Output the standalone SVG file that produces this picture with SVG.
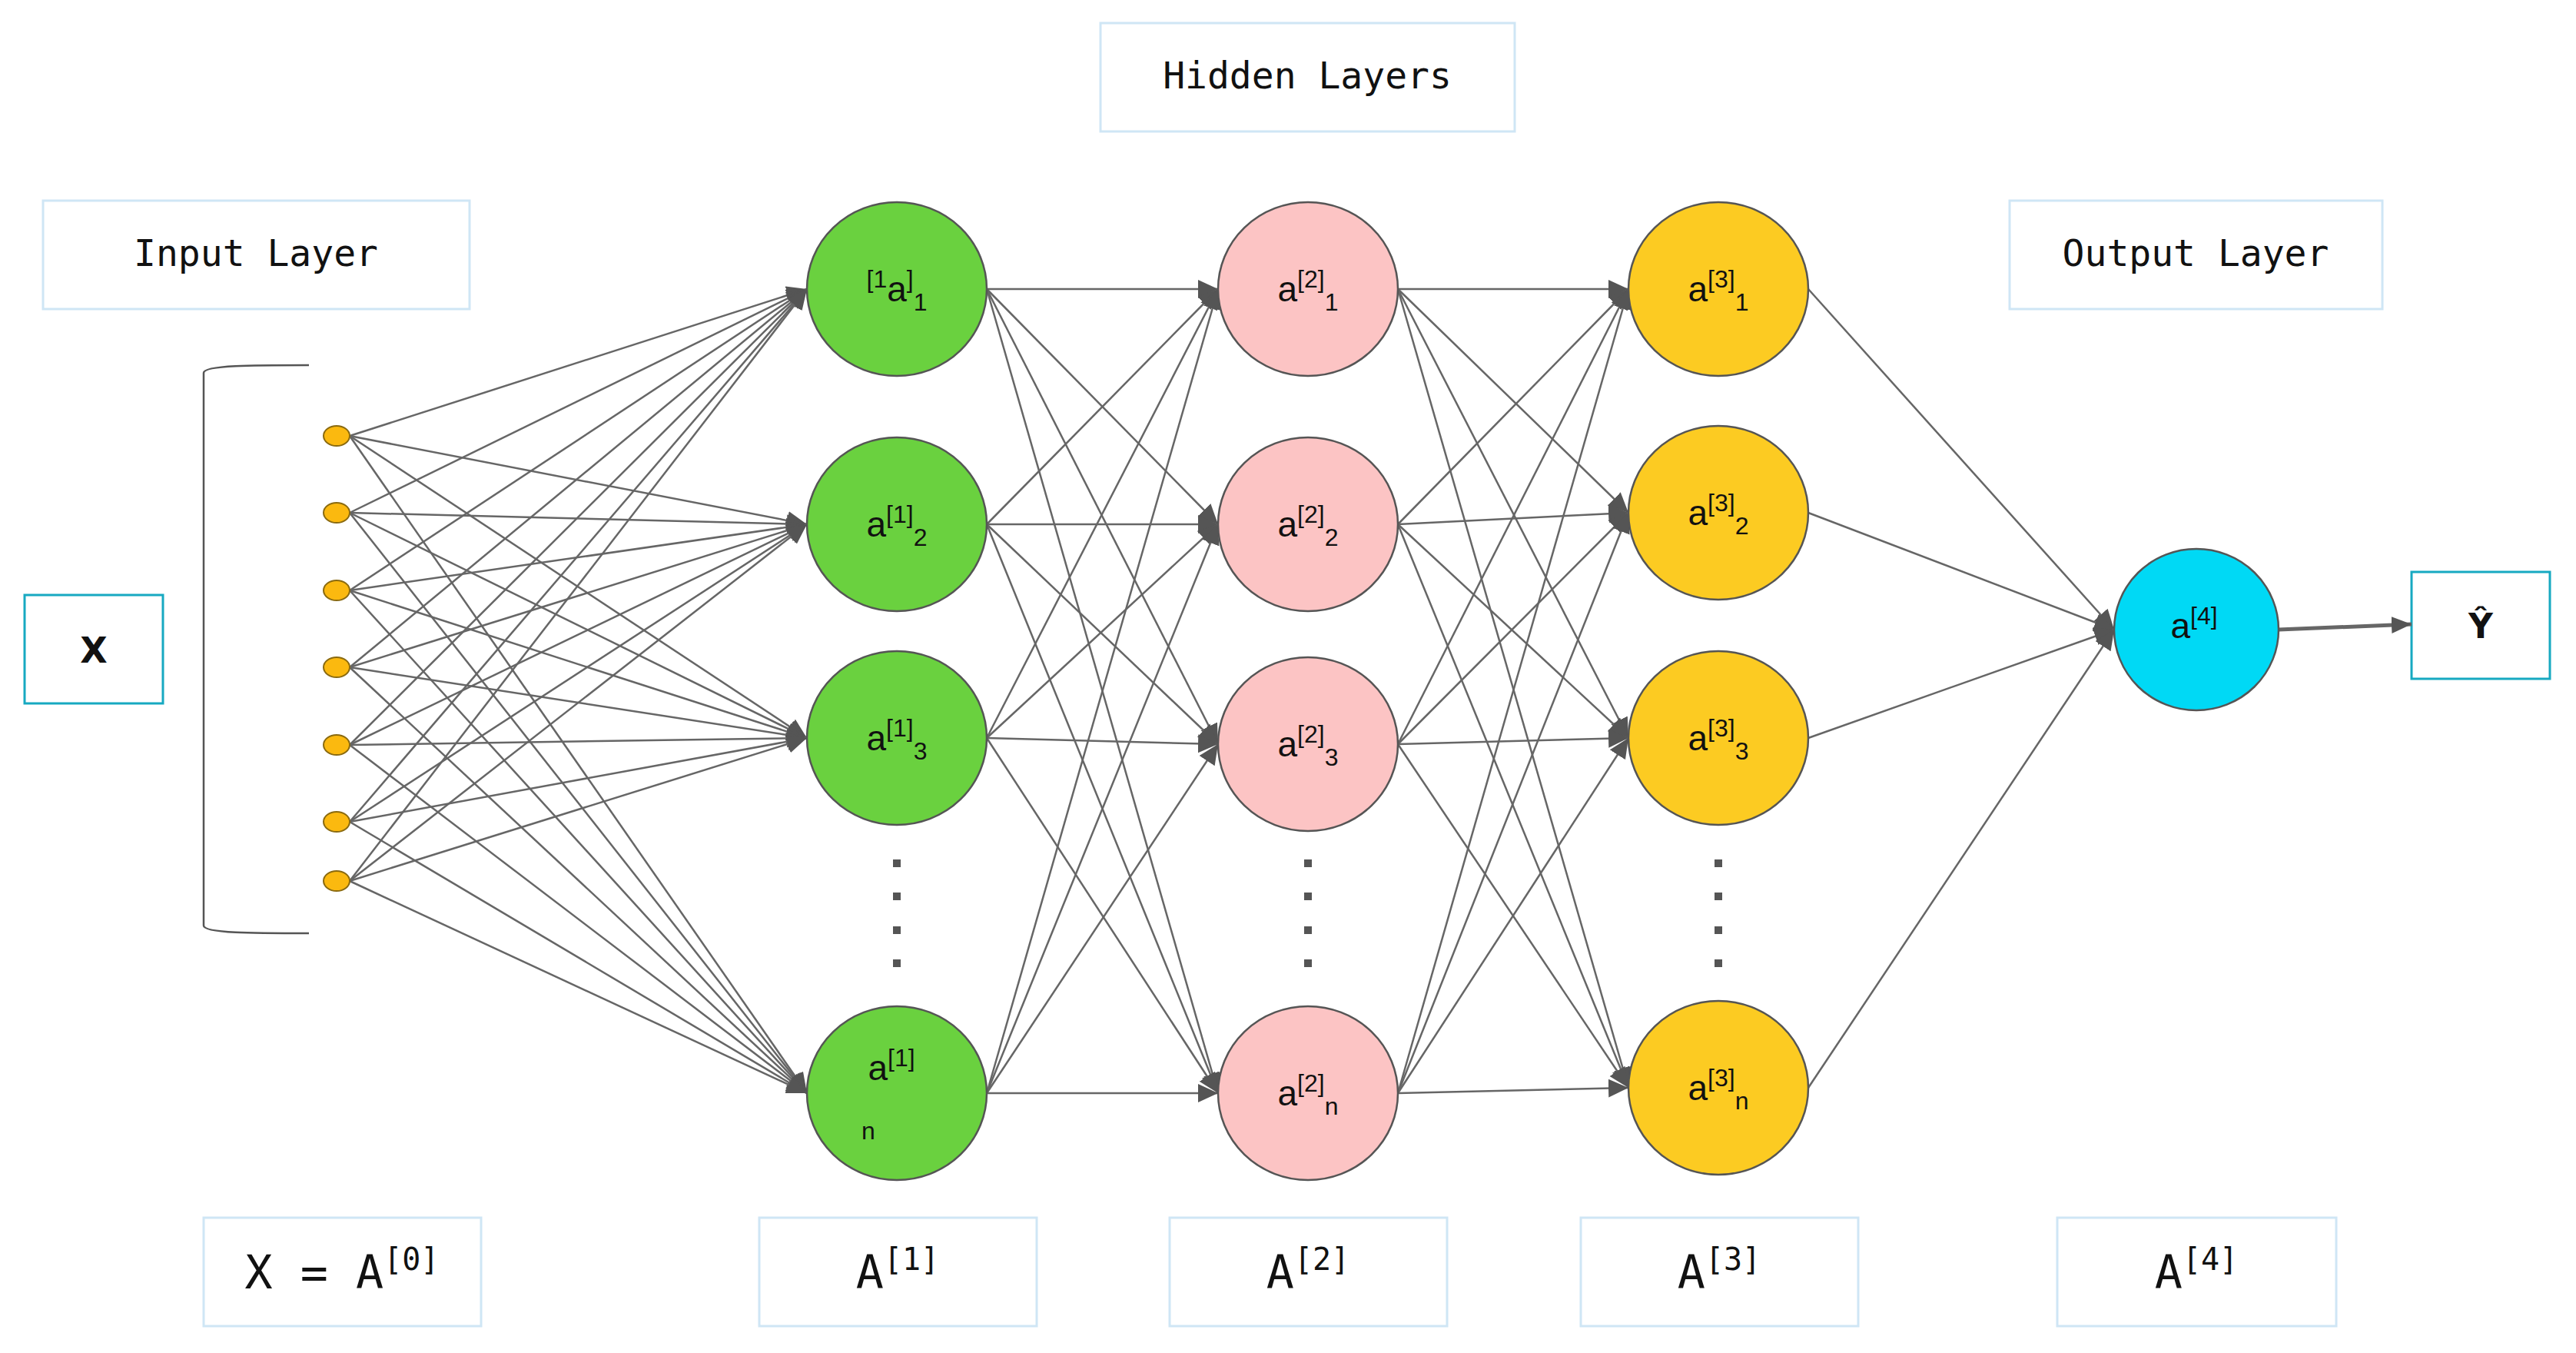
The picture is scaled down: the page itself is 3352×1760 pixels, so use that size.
<svg xmlns="http://www.w3.org/2000/svg" width="3352" height="1760" viewBox="0 0 3352 1760">
<style>
.e{stroke:#666;stroke-width:2.5;fill:none;marker-end:url(#ah)}
.lb{fill:#fff;stroke:#cfe6f5;stroke-width:3}
.tb{fill:#fff;stroke:#17a9c1;stroke-width:3}
.mono{font-family:"DejaVu Sans Mono","Liberation Mono",monospace;fill:#111}
.n{font-family:"Liberation Sans",Arial,sans-serif;font-size:46px;fill:#111;text-anchor:middle}
.s{font-size:32px}
.c{stroke:#555;stroke-width:2.5}
.dot{fill:#555}
</style>
<defs>
<marker id="ah" markerUnits="userSpaceOnUse" markerWidth="30" markerHeight="30" refX="26" refY="12" orient="auto"><path d="M0,0 L26,12 L0,24 Z" fill="#555"/></marker>
<marker id="ah2" markerUnits="userSpaceOnUse" markerWidth="30" markerHeight="30" refX="26" refY="11" orient="auto"><path d="M0,0 L26,11 L0,22 Z" fill="#555"/></marker>
</defs>
<rect width="3352" height="1760" fill="#fff"/>
<g id="labels">
<g id="hidden-label"><rect class="lb" x="1432" y="30" width="539" height="141"/><text class="mono" x="1701" y="115" font-size="48" text-anchor="middle">Hidden Layers</text></g>
<g id="input-label"><rect class="lb" x="56" y="261" width="555" height="141"/><text class="mono" x="333" y="346" font-size="48" text-anchor="middle">Input Layer</text></g>
<g id="output-label"><rect class="lb" x="2615" y="261" width="485" height="141"/><text class="mono" x="2857" y="346" font-size="48" text-anchor="middle">Output Layer</text></g>
<g id="x-box"><rect class="tb" x="32" y="774" width="180" height="141"/><text x="122" y="862" font-family="DejaVu Sans,sans-serif" font-weight="bold" font-size="46" text-anchor="middle" fill="#111">X</text></g>
<g id="y-box"><rect class="tb" x="3138" y="744" width="180" height="139"/><text x="3228" y="830" font-family="DejaVu Sans,sans-serif" font-weight="bold" font-size="44" text-anchor="middle" fill="#111">Ŷ</text></g>
<g id="A0"><rect class="lb" x="265" y="1584" width="361" height="141"/><text class="mono" x="445" y="1676" font-size="60" text-anchor="middle">X = A<tspan font-size="40" dy="-24">[0]</tspan></text></g>
<g id="A1"><rect class="lb" x="988" y="1584" width="361" height="141"/><text class="mono" x="1168" y="1676" font-size="60" text-anchor="middle">A<tspan font-size="40" dy="-24">[1]</tspan></text></g>
<g id="A2"><rect class="lb" x="1522" y="1584" width="361" height="141"/><text class="mono" x="1702" y="1676" font-size="60" text-anchor="middle">A<tspan font-size="40" dy="-24">[2]</tspan></text></g>
<g id="A3"><rect class="lb" x="2057" y="1584" width="361" height="141"/><text class="mono" x="2237" y="1676" font-size="60" text-anchor="middle">A<tspan font-size="40" dy="-24">[3]</tspan></text></g>
<g id="A4"><rect class="lb" x="2677" y="1584" width="363" height="141"/><text class="mono" x="2858" y="1676" font-size="60" text-anchor="middle">A<tspan font-size="40" dy="-24">[4]</tspan></text></g>
</g>
<g id="bracket"><path d="M402,475 C330,475 265,475 265,485 L265,1204 C265,1214 330,1214 402,1214" fill="none" stroke="#555" stroke-width="2.5"/></g>
<g id="connectors">
<line class="e" x1="455" y1="567" x2="1050" y2="376"/><line class="e" x1="455" y1="567" x2="1050" y2="682"/><line class="e" x1="455" y1="567" x2="1050" y2="960"/><line class="e" x1="455" y1="567" x2="1050" y2="1422"/>
<line class="e" x1="455" y1="667" x2="1050" y2="376"/><line class="e" x1="455" y1="667" x2="1050" y2="682"/><line class="e" x1="455" y1="667" x2="1050" y2="960"/><line class="e" x1="455" y1="667" x2="1050" y2="1422"/>
<line class="e" x1="455" y1="768" x2="1050" y2="376"/><line class="e" x1="455" y1="768" x2="1050" y2="682"/><line class="e" x1="455" y1="768" x2="1050" y2="960"/><line class="e" x1="455" y1="768" x2="1050" y2="1422"/>
<line class="e" x1="455" y1="868" x2="1050" y2="376"/><line class="e" x1="455" y1="868" x2="1050" y2="682"/><line class="e" x1="455" y1="868" x2="1050" y2="960"/><line class="e" x1="455" y1="868" x2="1050" y2="1422"/>
<line class="e" x1="455" y1="969" x2="1050" y2="376"/><line class="e" x1="455" y1="969" x2="1050" y2="682"/><line class="e" x1="455" y1="969" x2="1050" y2="960"/><line class="e" x1="455" y1="969" x2="1050" y2="1422"/>
<line class="e" x1="455" y1="1069" x2="1050" y2="376"/><line class="e" x1="455" y1="1069" x2="1050" y2="682"/><line class="e" x1="455" y1="1069" x2="1050" y2="960"/><line class="e" x1="455" y1="1069" x2="1050" y2="1422"/>
<line class="e" x1="455" y1="1146" x2="1050" y2="376"/><line class="e" x1="455" y1="1146" x2="1050" y2="682"/><line class="e" x1="455" y1="1146" x2="1050" y2="960"/><line class="e" x1="455" y1="1146" x2="1050" y2="1422"/>
<line class="e" x1="1284" y1="376" x2="1585" y2="376"/><line class="e" x1="1284" y1="376" x2="1585" y2="682"/><line class="e" x1="1284" y1="376" x2="1585" y2="968"/><line class="e" x1="1284" y1="376" x2="1585" y2="1422"/>
<line class="e" x1="1284" y1="682" x2="1585" y2="376"/><line class="e" x1="1284" y1="682" x2="1585" y2="682"/><line class="e" x1="1284" y1="682" x2="1585" y2="968"/><line class="e" x1="1284" y1="682" x2="1585" y2="1422"/>
<line class="e" x1="1284" y1="960" x2="1585" y2="376"/><line class="e" x1="1284" y1="960" x2="1585" y2="682"/><line class="e" x1="1284" y1="960" x2="1585" y2="968"/><line class="e" x1="1284" y1="960" x2="1585" y2="1422"/>
<line class="e" x1="1284" y1="1422" x2="1585" y2="376"/><line class="e" x1="1284" y1="1422" x2="1585" y2="682"/><line class="e" x1="1284" y1="1422" x2="1585" y2="968"/><line class="e" x1="1284" y1="1422" x2="1585" y2="1422"/>
<line class="e" x1="1819" y1="376" x2="2119" y2="376"/><line class="e" x1="1819" y1="376" x2="2119" y2="667"/><line class="e" x1="1819" y1="376" x2="2119" y2="960"/><line class="e" x1="1819" y1="376" x2="2119" y2="1415"/>
<line class="e" x1="1819" y1="682" x2="2119" y2="376"/><line class="e" x1="1819" y1="682" x2="2119" y2="667"/><line class="e" x1="1819" y1="682" x2="2119" y2="960"/><line class="e" x1="1819" y1="682" x2="2119" y2="1415"/>
<line class="e" x1="1819" y1="968" x2="2119" y2="376"/><line class="e" x1="1819" y1="968" x2="2119" y2="667"/><line class="e" x1="1819" y1="968" x2="2119" y2="960"/><line class="e" x1="1819" y1="968" x2="2119" y2="1415"/>
<line class="e" x1="1819" y1="1422" x2="2119" y2="376"/><line class="e" x1="1819" y1="1422" x2="2119" y2="667"/><line class="e" x1="1819" y1="1422" x2="2119" y2="960"/><line class="e" x1="1819" y1="1422" x2="2119" y2="1415"/>
<line class="e" x1="2353" y1="376" x2="2751" y2="819"/><line class="e" x1="2353" y1="667" x2="2751" y2="819"/><line class="e" x1="2353" y1="960" x2="2751" y2="819"/><line class="e" x1="2353" y1="1415" x2="2751" y2="819"/>
<line x1="2965" y1="819" x2="3138" y2="812" stroke="#666" stroke-width="5" marker-end="url(#ah2)"/>
</g>
<g id="inputs" fill="#fbb90f" stroke="#8a6a10" stroke-width="2">
<ellipse id="x1" cx="438" cy="567" rx="17" ry="13"/><ellipse id="x2" cx="438" cy="667" rx="17" ry="13"/><ellipse id="x3" cx="438" cy="768" rx="17" ry="13"/><ellipse id="x4" cx="438" cy="868" rx="17" ry="13"/><ellipse id="x5" cx="438" cy="969" rx="17" ry="13"/><ellipse id="x6" cx="438" cy="1069" rx="17" ry="13"/><ellipse id="x7" cx="438" cy="1146" rx="17" ry="13"/>
</g>
<g id="n11"><ellipse class="c" cx="1167" cy="376" rx="117" ry="113" fill="#6ad13f"/><text class="n" x="1167" y="392"><tspan class="s" dy="-18">[1</tspan><tspan dy="18">a</tspan><tspan class="s" dy="-18">]</tspan><tspan class="s" dy="30">1</tspan></text></g>
<g id="n12"><ellipse class="c" cx="1167" cy="682" rx="117" ry="113" fill="#6ad13f"/><text class="n" x="1167" y="698">a<tspan class="s" dy="-18">[1]</tspan><tspan class="s" dy="30">2</tspan></text></g>
<g id="n13"><ellipse class="c" cx="1167" cy="960" rx="117" ry="113" fill="#6ad13f"/><text class="n" x="1167" y="976">a<tspan class="s" dy="-18">[1]</tspan><tspan class="s" dy="30">3</tspan></text></g>
<g id="n1n"><ellipse class="c" cx="1167" cy="1422" rx="117" ry="113" fill="#6ad13f"/><text class="n" x="1160" y="1405">a<tspan class="s" dy="-18">[1]</tspan></text><text class="n s" x="1130" y="1482">n</text></g>
<g id="n21"><ellipse class="c" cx="1702" cy="376" rx="117" ry="113" fill="#fcc4c4"/><text class="n" x="1702" y="392">a<tspan class="s" dy="-18">[2]</tspan><tspan class="s" dy="30">1</tspan></text></g>
<g id="n22"><ellipse class="c" cx="1702" cy="682" rx="117" ry="113" fill="#fcc4c4"/><text class="n" x="1702" y="698">a<tspan class="s" dy="-18">[2]</tspan><tspan class="s" dy="30">2</tspan></text></g>
<g id="n23"><ellipse class="c" cx="1702" cy="968" rx="117" ry="113" fill="#fcc4c4"/><text class="n" x="1702" y="984">a<tspan class="s" dy="-18">[2]</tspan><tspan class="s" dy="30">3</tspan></text></g>
<g id="n2n"><ellipse class="c" cx="1702" cy="1422" rx="117" ry="113" fill="#fcc4c4"/><text class="n" x="1702" y="1438">a<tspan class="s" dy="-18">[2]</tspan><tspan class="s" dy="30">n</tspan></text></g>
<g id="n31"><ellipse class="c" cx="2236" cy="376" rx="117" ry="113" fill="#fccb22"/><text class="n" x="2236" y="392">a<tspan class="s" dy="-18">[3]</tspan><tspan class="s" dy="30">1</tspan></text></g>
<g id="n32"><ellipse class="c" cx="2236" cy="667" rx="117" ry="113" fill="#fccb22"/><text class="n" x="2236" y="683">a<tspan class="s" dy="-18">[3]</tspan><tspan class="s" dy="30">2</tspan></text></g>
<g id="n33"><ellipse class="c" cx="2236" cy="960" rx="117" ry="113" fill="#fccb22"/><text class="n" x="2236" y="976">a<tspan class="s" dy="-18">[3]</tspan><tspan class="s" dy="30">3</tspan></text></g>
<g id="n3n"><ellipse class="c" cx="2236" cy="1415" rx="117" ry="113" fill="#fccb22"/><text class="n" x="2236" y="1431">a<tspan class="s" dy="-18">[3]</tspan><tspan class="s" dy="30">n</tspan></text></g>
<g id="n4"><ellipse class="c" cx="2858" cy="819" rx="107" ry="105" fill="#00d9f5"/><text class="n" x="2855" y="830">a<tspan class="s" dy="-18">[4]</tspan></text></g>
<g id="ellipses">
<rect class="dot" x="1162" y="1118" width="10" height="10"/><rect class="dot" x="1162" y="1161" width="10" height="10"/><rect class="dot" x="1162" y="1205" width="10" height="10"/><rect class="dot" x="1162" y="1248" width="10" height="10"/>
<rect class="dot" x="1697" y="1118" width="10" height="10"/><rect class="dot" x="1697" y="1161" width="10" height="10"/><rect class="dot" x="1697" y="1205" width="10" height="10"/><rect class="dot" x="1697" y="1248" width="10" height="10"/>
<rect class="dot" x="2231" y="1118" width="10" height="10"/><rect class="dot" x="2231" y="1161" width="10" height="10"/><rect class="dot" x="2231" y="1205" width="10" height="10"/><rect class="dot" x="2231" y="1248" width="10" height="10"/>
</g>
</svg>
